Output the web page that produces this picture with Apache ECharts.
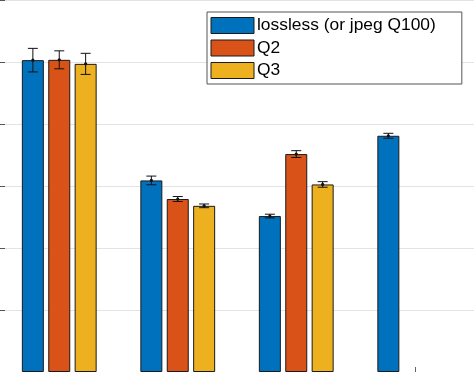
<!DOCTYPE html>
<html>
<head>
<meta charset="utf-8">
<script src="https://cdn.jsdelivr.net/npm/echarts@6/dist/echarts.min.js"></script>
<style>
html,body{margin:0;padding:0;background:#fff;}
#chart{width:474px;height:372px;}
</style>
</head>
<body>
<div id="chart"></div>
<script>
// ---- data ----
var categories = ['A', 'B', 'C', 'D'];
var seriesNames = ['lossless (or jpeg Q100)', 'Q2', 'Q3'];
var lossless = [5.03, 3.09, 2.515, 3.81];
var q2 = [5.035, 2.79, 3.515, null];
var q3 = [4.97, 2.68, 3.025, null];
var errLossless = [0.19, 0.07, 0.03, 0.04];
var errQ2 = [0.145, 0.04, 0.055, null];
var errQ3 = [0.17, 0.03, 0.045, null];
var yTicks = [0, 1, 2, 3, 4, 5, 6];

var colors = ['#0072BD', '#D95319', '#EDB120'];
var values = [lossless, q2, q3];
var errs = [errLossless, errQ2, errQ3];

var chart = echarts.init(document.getElementById('chart'), null, {renderer: 'canvas'});

function errSeries(k) {
  var data = [];
  for (var i = 0; i < categories.length; i++) {
    if (values[k][i] != null) data.push([i, values[k][i], errs[k][i]]);
  }
  return {
    type: 'custom',
    name: 'err' + k,
    z: 10,
    silent: true,
    data: data,
    renderItem: function (params, api) {
      var band = api.size([1, 0])[0];
      var off = (k - 1) * band * 26.5 / 119;
      var c = api.coord([api.value(0), api.value(1)]);
      var hi = api.coord([api.value(0), api.value(1) + api.value(2)]);
      var lo = api.coord([api.value(0), api.value(1) - api.value(2)]);
      var x = c[0] + off;
      var cap = 5;
      var st = {stroke: '#111', lineWidth: 1};
      return {
        type: 'group',
        children: [
          {type: 'line', shape: {x1: x, y1: hi[1], x2: x, y2: lo[1]}, style: st},
          {type: 'line', shape: {x1: x - cap, y1: hi[1], x2: x + cap, y2: hi[1]}, style: st},
          {type: 'line', shape: {x1: x - cap, y1: lo[1], x2: x + cap, y2: lo[1]}, style: st},
          {type: 'circle', shape: {cx: x, cy: c[1], r: 1.6}, style: {fill: '#111'}}
        ]
      };
    }
  };
}

var series = [];
for (var k = 0; k < 3; k++) {
  series.push({
    type: 'bar',
    name: seriesNames[k],
    data: values[k],
    barWidth: 22,
    barGap: '20%',
    itemStyle: {color: colors[k], borderColor: '#1a1a1a', borderWidth: 1},
    emphasis: {disabled: true}
  });
}
for (var k2 = 0; k2 < 3; k2++) series.push(errSeries(k2));

chart.setOption({
  animation: false,
  backgroundColor: '#fff',
  grid: {left: -1, right: -1, top: 0, bottom: -1},
  legend: {
    data: seriesNames.map(function (n) { return {name: n, icon: 'rect'}; }),
    orient: 'vertical',
    left: 207,
    top: 12,
    itemWidth: 43,
    itemHeight: 16,
    itemGap: 5.5,
    padding: [5, 26, 5, 3.5],
    borderColor: '#555',
    borderWidth: 1,
    backgroundColor: '#fff',
    itemStyle: {borderColor: '#1a1a1a', borderWidth: 1},
    textStyle: {fontFamily: 'Liberation Sans', fontSize: 17.4, color: '#000', padding: [0, 0, 0, -2]}
  },
  xAxis: {
    type: 'category',
    data: categories,
    axisLine: {show: false},
    axisTick: {show: true, inside: true, length: 5, alignWithLabel: true, lineStyle: {color: '#666'}},
    axisLabel: {show: false},
    splitLine: {show: false}
  },
  yAxis: {
    type: 'value',
    min: yTicks[0],
    max: yTicks[yTicks.length - 1],
    interval: 1,
    axisLine: {show: false},
    axisTick: {show: true, inside: true, length: 5, lineStyle: {color: '#555'}},
    axisLabel: {show: false},
    splitLine: {show: true, lineStyle: {color: '#e3e3e3', width: 1}}
  },
  series: series
});
</script>
</body>
</html>
